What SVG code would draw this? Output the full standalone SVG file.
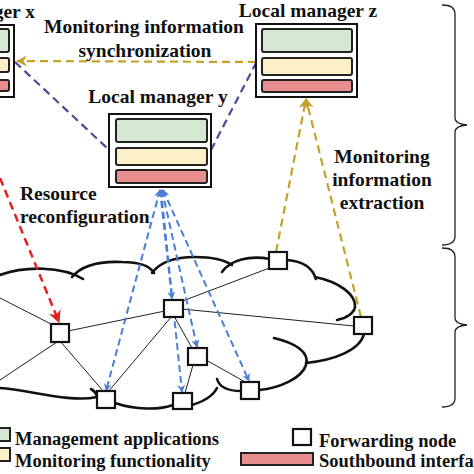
<svg xmlns="http://www.w3.org/2000/svg" width="474" height="474" viewBox="0 0 474 474">
<defs>
<style>
text{font-family:"Liberation Serif","Times New Roman",serif;font-weight:bold;fill:#111;}
.t{font-size:19.5px;}
.l{font-size:18.5px;}
.box{fill:#fff;stroke:#111;stroke-width:2;}
.g{fill:#d6e8d3;stroke:#222;stroke-width:2;}
.y{fill:#fdf0c9;stroke:#222;stroke-width:2;}
.r{fill:#e88e8e;stroke:#222;stroke-width:2;}
.node{fill:#fff;stroke:#111;stroke-width:2.2;}
.cloud{fill:none;stroke:#111;stroke-width:2.6;stroke-linecap:round;}
.edge{stroke:#222;stroke-width:1;fill:none;}
.gold{stroke:#c6a128;stroke-width:2.2;stroke-dasharray:8 5;fill:none;}
.purple{stroke:#4b4a9c;stroke-width:2.2;stroke-dasharray:8 5;fill:none;}
.blue{stroke:#4a7fd4;stroke-width:2;stroke-dasharray:7 4;fill:none;}
.red{stroke:#e3221f;stroke-width:2.5;stroke-dasharray:8 5;fill:none;}
.brace{fill:none;stroke:#222;stroke-width:1.3;}
</style>
<marker id="ag" viewBox="0 0 10 10" refX="9" refY="5" markerWidth="5" markerHeight="5" orient="auto" markerUnits="strokeWidth"><path d="M0,0 L10,5 L0,10 L3,5 z" fill="#c6a128"/></marker>
<marker id="ar" viewBox="0 0 10 10" refX="9" refY="5" markerWidth="5" markerHeight="5" orient="auto" markerUnits="strokeWidth"><path d="M0,0 L10,5 L0,10 L3,5 z" fill="#e3221f"/></marker>
<marker id="ab" viewBox="0 0 10 10" refX="9" refY="5" markerWidth="4" markerHeight="4" orient="auto-start-reverse" markerUnits="strokeWidth"><path d="M0,0 L10,5 L0,10 L3,5 z" fill="#4a7fd4"/></marker>
</defs>

<!-- cloud -->
<g id="cloud">
<path class="cloud" d="M0,275 C25,266 62,266 83,279"/>
<path class="cloud" d="M72,277 C82,265 100,261 122,262 C140,262 150,266 154,273"/>
<path class="cloud" d="M152,273 C160,262 175,257 195,257 C213,257 226,261 232,265"/>
<path class="cloud" d="M222,272 C230,260 250,255 270,259"/>
<path class="cloud" d="M287,260 C300,261 312,266 316,279"/>
<path class="cloud" d="M315,277 C340,282 356,295 355,307 C354,313 347,318 337,320"/>
<path class="cloud" d="M364,334 C360,350 335,360 306,363"/>
<path class="cloud" d="M274,338 C295,343 310,352 306,365 C302,378 280,388 259,390"/>
<path class="cloud" d="M241,391 C230,391 220,389 217,379"/>
<path class="cloud" d="M192,405 C205,401 213,396 217,388"/>
<path class="cloud" d="M115,403 C135,410 160,410 173,405"/>
<path class="cloud" d="M0,388 C30,390 70,403 97,397"/>
<path class="cloud" d="M91,389 Q95,391 97,396"/>
</g>

<!-- connectors -->
<g id="connectors">
<line class="edge" x1="0" y1="298" x2="53" y2="325"/>
<line class="edge" x1="0" y1="380" x2="57" y2="342"/>
<line class="edge" x1="60" y1="341" x2="104" y2="392"/>
<line class="edge" x1="68" y1="331" x2="165" y2="311"/>
<line class="edge" x1="172" y1="316" x2="108" y2="392"/>
<line class="edge" x1="174" y1="316" x2="192" y2="348"/>
<line class="edge" x1="180" y1="302" x2="272" y2="267"/>
<line class="edge" x1="182" y1="309" x2="354" y2="326"/>
<line class="edge" x1="193" y1="365" x2="185" y2="393"/>
<line class="edge" x1="206" y1="360" x2="247" y2="383"/>

<line class="gold" x1="256" y1="62" x2="17" y2="61" marker-end="url(#ag)"/>
<line class="purple" x1="15" y1="62" x2="107" y2="148"/>
<line class="purple" x1="211" y1="150" x2="256" y2="63"/>
<line class="gold" x1="276" y1="252" x2="306" y2="99" marker-end="url(#ag)"/>
<line class="gold" x1="361" y1="317" x2="306" y2="99" marker-end="url(#ag)"/>
<line class="red" x1="0" y1="178" x2="59" y2="322" marker-end="url(#ar)"/>

<line class="blue" x1="160" y1="190" x2="106" y2="391" marker-start="url(#ab)" marker-end="url(#ab)"/>
<line class="blue" x1="160" y1="190" x2="172" y2="299" marker-start="url(#ab)" marker-end="url(#ab)"/>
<line class="blue" x1="161" y1="190" x2="182" y2="392" marker-start="url(#ab)" marker-end="url(#ab)"/>
<line class="blue" x1="162" y1="190" x2="197" y2="347" marker-start="url(#ab)" marker-end="url(#ab)"/>
<line class="blue" x1="163" y1="190" x2="249" y2="381" marker-start="url(#ab)" marker-end="url(#ab)"/>
</g>

<!-- forwarding nodes -->
<g id="n1"><rect class="node" x="269" y="252" width="18" height="17"/></g>
<g id="n2"><rect class="node" x="354" y="317" width="18" height="17"/></g>
<g id="n3"><rect class="node" x="164" y="300" width="19" height="17"/></g>
<g id="n4"><rect class="node" x="51" y="324" width="18" height="18"/></g>
<g id="n5"><rect class="node" x="97" y="391" width="18" height="17"/></g>
<g id="n6"><rect class="node" x="173" y="393" width="19" height="16"/></g>
<g id="n7"><rect class="node" x="188" y="348" width="19" height="17"/></g>
<g id="n8"><rect class="node" x="241" y="382" width="18" height="17"/></g>

<!-- managers -->
<g id="manager-x">
<rect class="box" x="-87" y="25" width="101" height="72"/>
<rect class="g" x="-81" y="29" width="90" height="23" rx="2"/>
<rect class="y" x="-81" y="58" width="90" height="14" rx="2"/>
<rect class="r" x="-81" y="80" width="90" height="11" rx="2"/>
<text class="t" x="35" y="18" text-anchor="end">Local manager x</text>
</g>
<g id="manager-z">
<rect class="box" x="256" y="24" width="101" height="73"/>
<rect class="g" x="262" y="29" width="90" height="23" rx="2"/>
<rect class="y" x="262" y="58" width="90" height="17" rx="2"/>
<rect class="r" x="262" y="80" width="90" height="12" rx="2"/>
<text class="t" x="308" y="17" text-anchor="middle">Local manager z</text>
</g>
<g id="manager-y">
<rect class="box" x="109" y="114" width="102" height="73"/>
<rect class="g" x="116" y="119" width="91" height="23" rx="2"/>
<rect class="y" x="116" y="148" width="91" height="17" rx="2"/>
<rect class="r" x="116" y="170" width="91" height="13" rx="2"/>
<text class="t" x="158" y="103" text-anchor="middle">Local manager y</text>
</g>

<!-- labels -->
<g id="labels">
<text class="t" x="144" y="33" text-anchor="middle">Monitoring information</text>
<text class="t" x="145" y="57" text-anchor="middle">synchronization</text>
<text class="t" x="20" y="200">Resource</text>
<text class="t" x="20" y="223">reconfiguration</text>
<text class="t" x="382" y="163" text-anchor="middle">Monitoring</text>
<text class="t" x="382" y="186" text-anchor="middle">information</text>
<text class="t" x="382" y="209" text-anchor="middle">extraction</text>
</g>

<!-- braces -->
<g id="braces">
<path class="brace" d="M442,5 Q455,5 455,14 L455,118 Q455,124 467,125 Q455,126 455,132 L455,236 Q455,245 442,245"/>
<path class="brace" d="M442,248 Q455,248 455,257 L455,318 Q455,324 467,325 Q455,326 455,332 L455,398 Q455,407 442,407"/>
</g>

<!-- legend -->
<g id="legend">
<rect class="g" x="-4" y="428" width="14" height="13" stroke-width="1.5"/>
<text class="l" x="15" y="445">Management applications</text>
<rect class="y" x="-4" y="448" width="14" height="13" stroke-width="1.5"/>
<text class="l" x="15" y="467">Monitoring functionality</text>
<rect class="node" x="293" y="429" width="18" height="16"/>
<text class="l" x="319" y="447">Forwarding node</text>
<rect class="r" x="241" y="453" width="72" height="12" rx="0" stroke-width="1.5"/>
<text class="l" x="319" y="467">Southbound interface</text>
</g>
</svg>
